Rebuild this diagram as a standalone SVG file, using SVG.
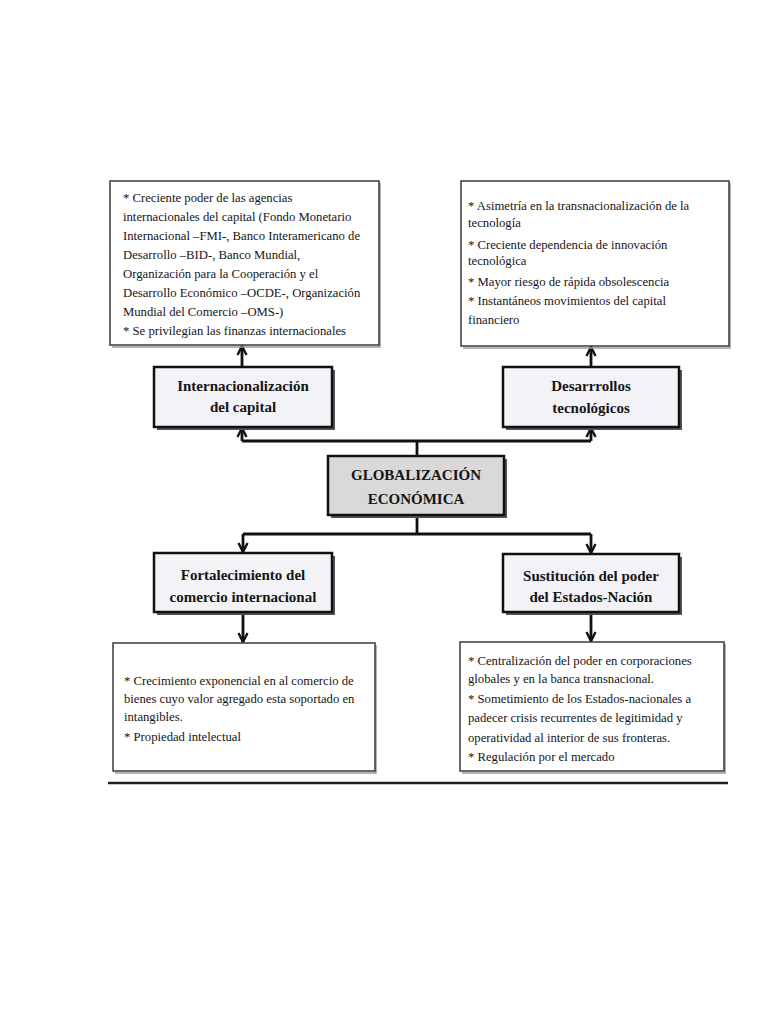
<svg xmlns="http://www.w3.org/2000/svg" width="768" height="1024" viewBox="0 0 768 1024">
<style>
.bg{fill:#ffffff}
.tbox{fill:#ffffff;stroke:#3a3a3a;stroke-width:1.5}
.tshadow{fill:none;stroke:#9a9a9a;stroke-width:1.5}
.mbox{fill:#f3f3f7;stroke:#111111;stroke-width:2.5}
.gbox{fill:#d9d9d9;stroke:#111111;stroke-width:2.5}
.mshadow{fill:#555555}
.body{font-family:"Liberation Serif","Times New Roman",serif;font-size:12.7px;fill:#151515}
.title{font-family:"Liberation Serif","Times New Roman",serif;font-size:15px;font-weight:bold;fill:#151515;text-anchor:middle}
.conn{fill:none;stroke:#111111;stroke-width:2.8}
.rule{stroke:#222222;stroke-width:2.5}
</style>
<defs>
<marker id="arr" viewBox="0 0 12 12" refX="11" refY="6" markerWidth="12" markerHeight="12" markerUnits="userSpaceOnUse" orient="auto">
<path d="M2,1.5 L11,6 L2,10.5" fill="none" stroke="#111111" stroke-width="2.4"/>
</marker>
</defs>
<rect class="bg" x="0" y="0" width="768" height="1024"/>

<g id="connectors">
<line class="conn" x1="417" y1="456" x2="417" y2="441"/>
<polyline class="conn" points="242,441 591,441"/>
<line class="conn" x1="242" y1="441" x2="242" y2="428" marker-end="url(#arr)"/>
<line class="conn" x1="591" y1="441" x2="591" y2="428" marker-end="url(#arr)"/>
<line class="conn" x1="242" y1="367" x2="242" y2="346" marker-end="url(#arr)"/>
<line class="conn" x1="591" y1="367" x2="591" y2="347" marker-end="url(#arr)"/>
<line class="conn" x1="417" y1="515" x2="417" y2="534"/>
<polyline class="conn" points="243,534 591,534"/>
<line class="conn" x1="243" y1="534" x2="243" y2="552" marker-end="url(#arr)"/>
<line class="conn" x1="591" y1="534" x2="591" y2="553" marker-end="url(#arr)"/>
<line class="conn" x1="243" y1="612" x2="243" y2="642" marker-end="url(#arr)"/>
<line class="conn" x1="591" y1="612" x2="591" y2="641" marker-end="url(#arr)"/>
</g>

<g id="box-capital-info">
<polyline class="tshadow" points="380,183 380,347 112,347"/>
<rect class="tbox" x="110" y="181" width="269" height="164"/>
<text class="body" x="123" y="201.5">* Creciente poder de las agencias</text>
<text class="body" x="123" y="220.5">internacionales del capital (Fondo Monetario</text>
<text class="body" x="123" y="239.5">Internacional –FMI-, Banco Interamericano de</text>
<text class="body" x="123" y="258.5">Desarrollo –BID-, Banco Mundial,</text>
<text class="body" x="123" y="277.5">Organización para la Cooperación y el</text>
<text class="body" x="123" y="296.5">Desarrollo Económico –OCDE-, Organización</text>
<text class="body" x="123" y="315.5">Mundial del Comercio –OMS-)</text>
<text class="body" x="123" y="334.5">* Se privilegian las finanzas internacionales</text>
</g>

<g id="box-tecno-info">
<polyline class="tshadow" points="730,183 730,348 463,348"/>
<rect class="tbox" x="461" y="181" width="268" height="165"/>
<text class="body" x="468" y="209.5">* Asimetría en la transnacionalización de la</text>
<text class="body" x="468" y="226.5">tecnología</text>
<text class="body" x="468" y="248.5">* Creciente dependencia de innovación</text>
<text class="body" x="468" y="264.5">tecnológica</text>
<text class="body" x="468" y="286">* Mayor riesgo de rápida obsolescencia</text>
<text class="body" x="468" y="305">* Instantáneos movimientos del capital</text>
<text class="body" x="468" y="323.5">financiero</text>
</g>

<g id="node-internacionalizacion">
<rect class="mshadow" x="157" y="370" width="178" height="60"/>
<rect class="mbox" x="154" y="367" width="178" height="60"/>
<text class="title" x="243" y="391">Internacionalización</text>
<text class="title" x="243" y="412">del capital</text>
</g>

<g id="node-desarrollos">
<rect class="mshadow" x="506" y="370" width="176" height="60"/>
<rect class="mbox" x="503" y="367" width="176" height="60"/>
<text class="title" x="591" y="391">Desarrrollos</text>
<text class="title" x="591" y="413">tecnológicos</text>
</g>

<g id="node-globalizacion">
<rect class="mshadow" x="331" y="459" width="176" height="59"/>
<rect class="gbox" x="328" y="456" width="176" height="59"/>
<text class="title" x="416" y="480">GLOBALIZACIÓN</text>
<text class="title" x="416" y="504">ECONÓMICA</text>
</g>

<g id="node-fortalecimiento">
<rect class="mshadow" x="157" y="556" width="178" height="59"/>
<rect class="mbox" x="154" y="553" width="178" height="59"/>
<text class="title" x="243" y="580">Fortalecimiento del</text>
<text class="title" x="243" y="602">comercio internacional</text>
</g>

<g id="node-sustitucion">
<rect class="mshadow" x="506" y="557" width="176" height="58"/>
<rect class="mbox" x="503" y="554" width="176" height="58"/>
<text class="title" x="591" y="581">Sustitución del poder</text>
<text class="title" x="591" y="602">del Estados-Nación</text>
</g>

<g id="box-comercio-info">
<polyline class="tshadow" points="376,645 376,773 115,773"/>
<rect class="tbox" x="113" y="643" width="262" height="128"/>
<text class="body" x="124" y="684.5">* Crecimiento exponencial en al comercio de</text>
<text class="body" x="124" y="702.5">bienes cuyo valor agregado esta soportado en</text>
<text class="body" x="124" y="720.5">intangibles.</text>
<text class="body" x="124" y="740.5">* Propiedad intelectual</text>
</g>

<g id="box-estado-info">
<polyline class="tshadow" points="725,644 725,773 462,773"/>
<rect class="tbox" x="460" y="642" width="264" height="129"/>
<text class="body" x="468" y="664.5">* Centralización del poder en corporaciones</text>
<text class="body" x="468" y="682.5">globales y en la banca transnacional.</text>
<text class="body" x="468" y="702.5">* Sometimiento de los Estados-nacionales a</text>
<text class="body" x="468" y="721.5">padecer crisis recurrentes de legitimidad y</text>
<text class="body" x="468" y="741.5">operatividad al interior de sus fronteras.</text>
<text class="body" x="468" y="760.5">* Regulación por el mercado</text>
</g>

<line class="rule" x1="108" y1="783" x2="728" y2="783"/>
</svg>
